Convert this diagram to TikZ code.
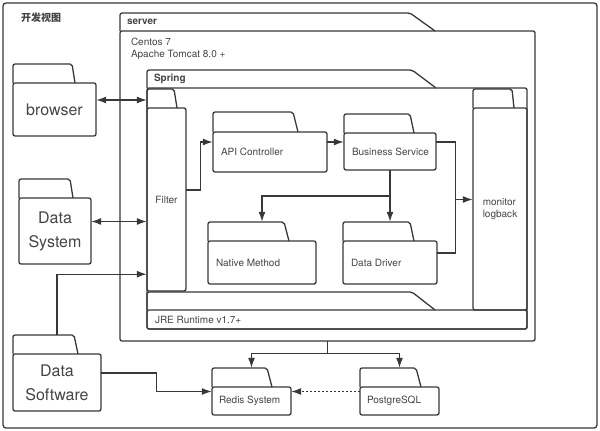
\documentclass[tikz,border=0pt]{standalone}
\usepackage{fontspec}
\setmainfont{TeX Gyre Heros}
\newfontfamily\cjk{Noto Sans CJK SC}
\usepackage{tikz}
\usetikzlibrary{arrows.meta,fit,calc,positioning}
\definecolor{linegray}{HTML}{383838}
\definecolor{textgray}{HTML}{444444}
\tikzset{
  pkgline/.style={draw=linegray, line width=1.3pt, rounded corners=2pt},
  pkgarea/.style={inner sep=0pt, draw=none},
  pkgtext/.style={text=textgray, font=\fontsize{10}{12}\selectfont, inner sep=0pt},
  bigtext/.style={text=textgray, font=\fontsize{16}{24}\selectfont, align=center, inner sep=0pt},
  link/.style={draw=linegray, line width=1.3pt},
  arr/.style={link, -{Latex[length=10pt,width=7pt]}},
  dblarr/.style={link, {Latex[length=10pt,width=7pt]}-{Latex[length=10pt,width=7pt]}},
  dotarr/.style={arr, dash pattern=on 2pt off 2pt}
}

% #1 name, #2 left, #3 tab top, #4 tab corner, #5 tab foot, #6 body top, #7 right, #8 bottom
\newcommand{\package}[8]{%
  \draw[pkgline] (#2,#6) -- (#2,#3) -- (#4,#3) -- (#5,#6);
  \draw[pkgline] (#2,#6) rectangle (#7,#8);
  \node[pkgarea, fit={(#2,#3) (#7,#8)}] (#1) {};
  \node[pkgarea, fit={(#2,#6) (#7,#8)}] (#1-body) {};
}

\begin{document}
\begin{tikzpicture}[x=1pt,y=-1pt]
      \useasboundingbox (0,0) rectangle (600,431);
      \draw[link, rounded corners=3pt] (3,3) rectangle (597,428);
      \node[anchor=west, inner sep=0pt, text=textgray, font=\cjk\bfseries\fontsize{10}{12}\selectfont] (title) at (21,18) {开发视图};

      \package{server}{120}{13}{410}{435}{31}{535}{341}
      \package{spring}{147}{70}{412}{436}{88}{527}{329}
      \package{jre}{147}{292}{412}{435}{310}{527}{329}
      \package{filter}{147}{89}{174}{177}{108}{186}{291}
      \package{api}{213}{112}{293}{298}{132}{327}{172}
      \package{bs}{344}{114}{410}{414}{133}{436}{170}
      \package{native}{208}{222}{284}{289}{241}{316}{284}
      \package{driver}{343}{222}{410}{414}{241}{437}{284}
      \package{monitor}{473}{89}{512}{514}{108}{527}{310}

      \package{browser}{13}{64}{72}{75}{83}{96}{136}
      \package{datasys}{19}{179}{70}{73}{198}{91}{264}
      \package{datasoft}{13}{335}{74}{78}{354}{101}{411}
      \package{redis}{212}{368}{267}{272}{387}{291}{415}
      \package{pg}{360}{368}{416}{421}{387}{439}{415}

      \node[pkgtext, anchor=west, xshift=7pt, font=\bfseries\fontsize{10}{12}\selectfont] (servername) at ($(server.north west)!0.5!(server-body.north west)$) {server};
      \node[pkgtext, anchor=north west, align=left] (serverinfo) at ([xshift=11pt,yshift=-7pt]server-body.north west) {Centos 7\\Apache Tomcat 8.0 +};
      \node[pkgtext, anchor=west, xshift=7pt, font=\bfseries\fontsize{10}{12}\selectfont] (springname) at ($(spring.north west)!0.5!(spring-body.north west)$) {Spring};
      \node[pkgtext, anchor=west] (jrename) at ([xshift=8pt]jre-body.west) {JRE Runtime v1.7+};
      \node[pkgtext] (filtername) at (filter-body.center) {Filter};
      \node[pkgtext, align=left] (monitorname) at (monitor-body.center) {monitor\\logback};
      \node[pkgtext, anchor=west] (apiname) at ([xshift=8pt]api-body.west) {API Controller};
      \node[pkgtext, anchor=west] (bsname) at ([xshift=8pt]bs-body.west) {Business Service};
      \node[pkgtext, anchor=west] (nativename) at ([xshift=8pt]native-body.west) {Native Method};
      \node[pkgtext, anchor=west] (drivername) at ([xshift=8pt]driver-body.west) {Data Driver};
      \node[pkgtext, anchor=west] (redisname) at ([xshift=7pt]redis-body.west) {Redis System};
      \node[pkgtext, anchor=west] (pgname) at ([xshift=7pt]pg-body.west) {PostgreSQL};

      \node[bigtext] (browsername) at (browser-body.center) {browser};
      \node[bigtext] (datasysname) at (datasys-body.center) {Data\\System};
      \node[bigtext] (datasoftname) at (datasoft-body.center) {Data\\Software};

      \draw[dblarr] (browser.east) -- (browser.east -| filter.west);
      \draw[dblarr] (datasys.east) -- (datasys.east -| filter.west);
      \draw[arr] (datasoft.north) |- ([yshift=17pt]filter.south west);
      \draw[arr] (filter.east) -- ++(14,0) |- (api.west);
      \draw[arr] (api.east) -- (bs.west);
      \draw[arr] (bs.south) -- (driver.north);
      \draw[arr] ($(bs.south)!0.5!(driver.north)$) -| (native.north);
      \draw[link] (bs.east) -- ++(19,0) coordinate (busjoin) |- (driver.east);
      \draw[arr] (busjoin |- monitor.west) -- (monitor.west);

      \draw[link] (server.south) -- ++(0,12) coordinate (fork);
      \draw[arr] (fork) -| (redis.north);
      \draw[arr] (fork) -| (pg.north);
      \draw[arr] (datasoft.east) -- ++(55,0) |- (redis.west);
      \draw[dotarr] (pg.west) -- (redis.east);
    \end{tikzpicture}
\end{document}
